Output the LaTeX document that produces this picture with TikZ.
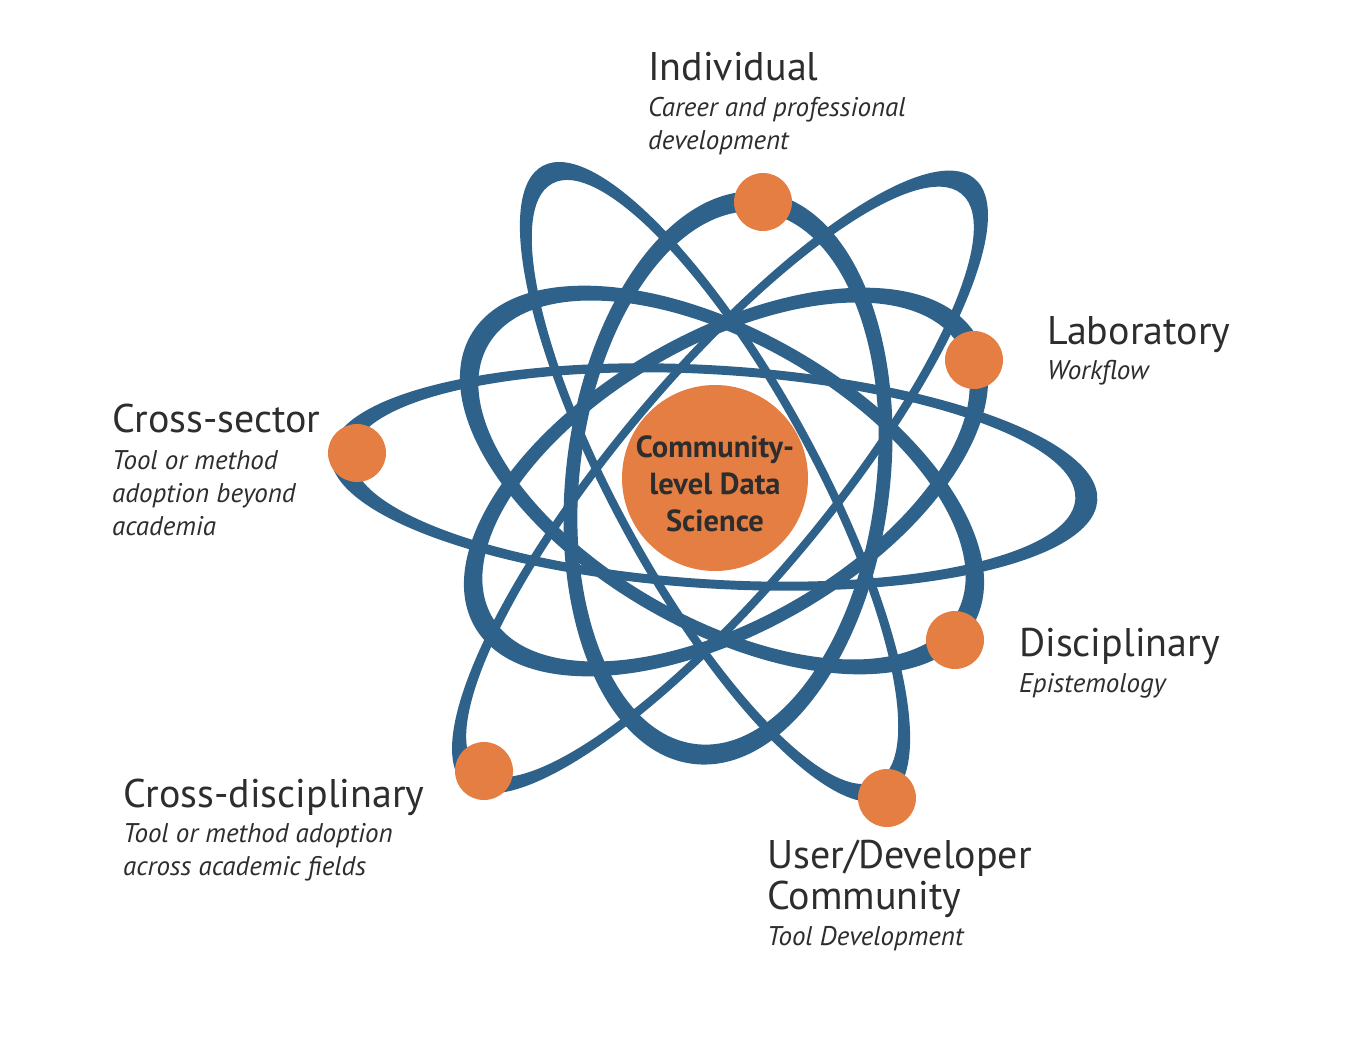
\documentclass[tikz,border=0pt]{standalone}
\usepackage{fontspec}
\setmainfont{PT Sans}
\usetikzlibrary{positioning}
\definecolor{atomblue}{RGB}{46,98,138}
\definecolor{atomorange}{RGB}{228,126,66}
\definecolor{labelgray}{RGB}{45,45,45}
\tikzset{
  electron/.style={circle,fill=atomorange,minimum size=58pt,inner sep=0pt},
  nucleus/.style={circle,fill=atomorange,minimum size=186pt,inner sep=0pt},
  heading/.style={anchor=base west,inner sep=0pt,text=labelgray,font=\fontsize{40}{41}\selectfont},
  detail/.style={inner sep=0pt,align=left,text=labelgray,font=\fontsize{27}{33}\selectfont\itshape},
}

\begin{document}
\begin{tikzpicture}[x=1pt,y=-1pt]
  \path[use as bounding box,fill=white] (0,0) rectangle (1358,1049);
  % orbits: centre / half axes / angle / half width
  \foreach \cx/\cy/\ra/\rb/\ang/\hw in {714/477/373/107/-3.5/11,
      715/482/350/100/118.6/10, 720/482/386/105/50/10,
      728/478/278/155/83/10, 722/480/280/143/150/10, 726/482/280/143/30/10}
    \fill[atomblue,even odd rule,rotate around={\ang:(\cx,\cy)}]
      (\cx,\cy) ellipse[x radius={\ra+\hw},y radius={\rb+\hw*\rb/\ra+1.3}]
      (\cx,\cy) ellipse[x radius={\ra-\hw},y radius={\rb-\hw*\rb/\ra-1.3}];
  % electrons
  \node[electron] (individual) at (763,202) {};
  \node[electron] (laboratory) at (974,360) {};
  \node[electron] (crosssector) at (357,453) {};
  \node[electron] (disciplinary) at (955,640) {};
  \node[electron] (crossdisc) at (484,771) {};
  \node[electron] (userdev) at (887,798) {};
  \node[nucleus] (core) at (715,478) {};
  \node[align=center,text=labelgray,font=\fontsize{30.5}{37}\selectfont\bfseries]
    (coretext) at ([yshift=-6pt]core.center) {Community-\\level Data\\Science};
  % labels
  \node[heading] (indhead) at (648,81) {Individual};
  \node[detail,below right=16pt and 0pt of indhead.base west] (indsub)
    {Career and professional\\development};
  \node[heading] (labhead) at (1047,344) {Laboratory};
  \node[detail,below right=16pt and 0pt of labhead.base west] (labsub) {Workflow};
  \node[heading] (sechead) at (112,432) {Cross-sector};
  \node[detail,below right=18pt and 0pt of sechead.base west] (secsub)
    {Tool or method\\adoption beyond\\academia};
  \node[heading] (dischead) at (1019,656) {Disciplinary};
  \node[detail,below right=17pt and 0pt of dischead.base west] (discsub) {Epistemology};
  \node[heading] (xdhead) at (123,807) {Cross-disciplinary};
  \node[detail,below right=16pt and 0pt of xdhead.base west] (xdsub)
    {Tool or method adoption\\across academic fields};
  \node[heading] (udhead) at (767,868) {User/Developer};
  \node[heading,below right=41pt and 0pt of udhead.base west,anchor=base west] (udhead2) {Community};
  \node[detail,below right=17pt and 0pt of udhead2.base west] (udsub) {Tool Development};
\end{tikzpicture}
\end{document}
